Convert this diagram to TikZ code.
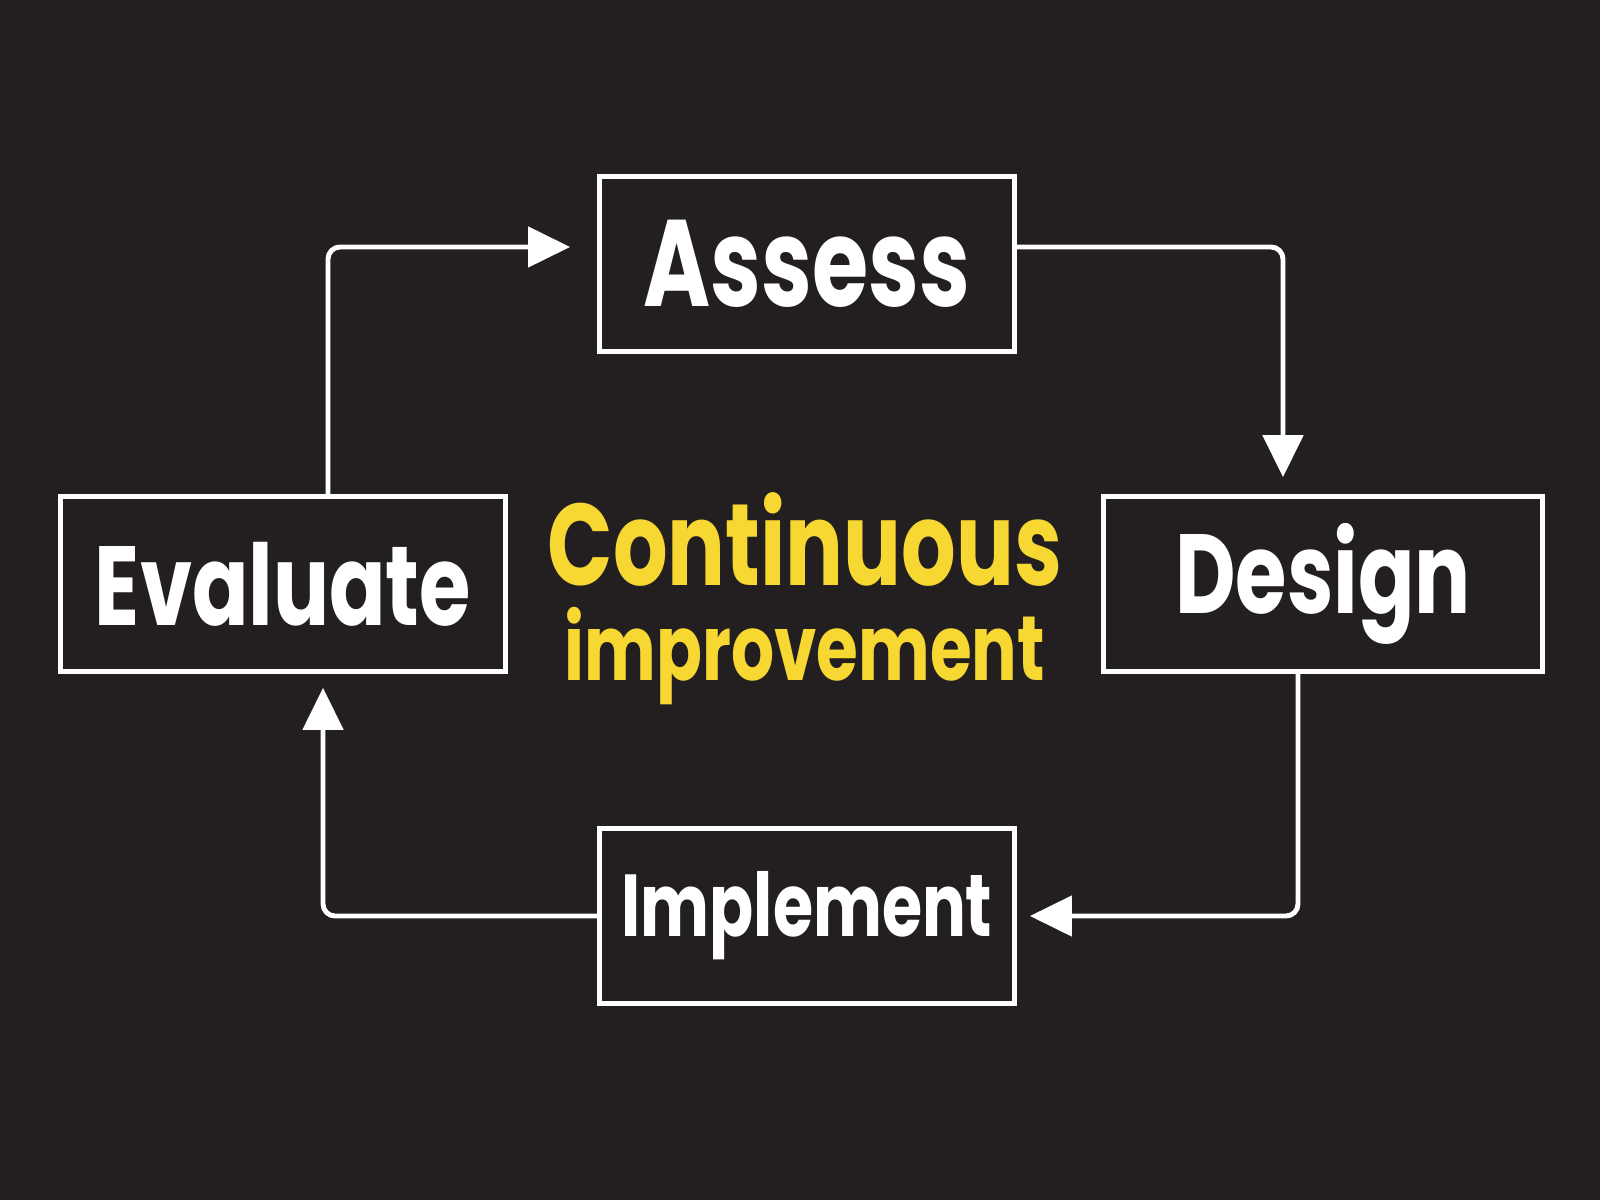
\documentclass[tikz,border=0pt]{standalone}
\usepackage{fontspec}
\setmainfont{Poppins}[FakeStretch=0.74]
\usepackage{xcolor}
\usetikzlibrary{arrows.meta,positioning}

\definecolor{board}{HTML}{231F20}
\definecolor{chalkyellow}{HTML}{F7D731}

\begin{document}
\begin{tikzpicture}[x=0.01cm, y=-0.01cm,
    stage/.style={draw=white, line width=1.3pt, fill=none, text=white, minimum height=1.75cm, inner sep=0pt, font=\fontsize{32}{36}\selectfont\bfseries},
    flow/.style={draw=white, line width=1.4pt, rounded corners=0.12cm, -{Triangle[length=0.42cm, width=0.4cm, fill=white]}},
    core/.style={text=chalkyellow, align=center, inner sep=0pt}]
  \fill[board] (0,0) rectangle (1600,1200);
  \node[stage, minimum width=4.15cm, font=\fontsize{35}{38}\selectfont\bfseries] (assess) at (807, 264) {Assess};
  \node[stage, minimum width=4.45cm] (evaluate) at (283, 584) {Evaluate};
  \node[stage, minimum width=4.39cm] (design) at (1323, 584) {Design};
  \node[stage, minimum width=4.15cm, font=\fontsize{25}{28}\selectfont\bfseries] (implement) at (807, 916) {Implement};
  \node[core] (motto) at (805, 599)
    {\fontsize{33}{27}\selectfont\bfseries Continuous\\[5pt]\fontsize{26}{27}\selectfont\bfseries improvement};
  \draw[flow, shorten >=0.27cm] ([xshift=0.45cm]evaluate.north) |- ([yshift=0.17cm]assess.west);
  \draw[flow, shorten >=0.17cm] ([yshift=0.17cm]assess.east) -| ([xshift=-0.4cm]design.north);
  \draw[flow, shorten >=0.13cm] ([xshift=-0.25cm]design.south) |- (implement.east);
  \draw[flow, shorten >=0.14cm] (implement.west) -| ([xshift=0.4cm]evaluate.south);
\end{tikzpicture}
\end{document}
